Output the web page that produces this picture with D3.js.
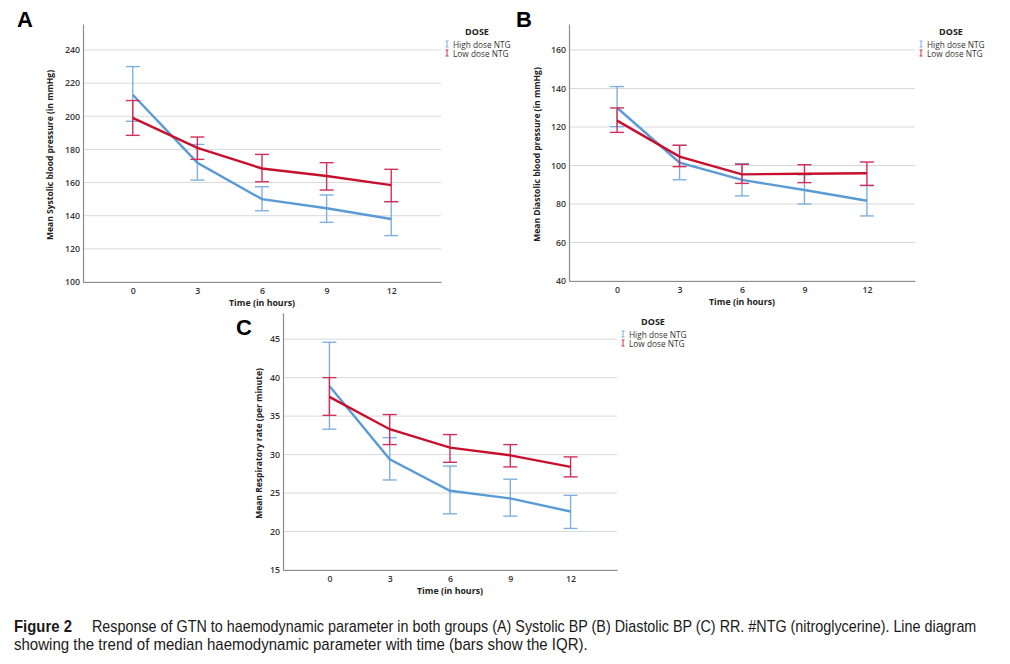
<!DOCTYPE html>
<html>
<head>
<meta charset="utf-8">
<script src="https://cdn.jsdelivr.net/npm/d3@7"></script>
<style>
  body { margin: 0; background: #fff; }
  text { font-family: "Open Sans", "Noto Sans", sans-serif; }
</style>
</head>
<body>
<div id="chart"></div>
<script>
// time points (hours)
var hours = ["0", "3", "6", "9", "12"];
var doses = ["High dose NTG", "Low dose NTG"];

// A - systolic BP (median, lower IQR, upper IQR)
var sbpHighMed = [213, 172, 150, 144.5, 138];
var sbpHighLow = [197, 161.5, 143, 136, 128];
var sbpHighUp  = [230, 183, 157.5, 152.5, 148.5];
var sbpLowMed  = [199, 181, 168.5, 164, 158.5];
var sbpLowLow  = [188.5, 174, 160.5, 155.5, 148.5];
var sbpLowUp   = [209.5, 187.5, 177, 172, 168];
var sbpTicks = [100, 120, 140, 160, 180, 200, 220, 240];

// B - diastolic BP
var dbpHighMed = [130, 101.5, 92.5, 87.3, 81.7];
var dbpHighLow = [120.2, 92.6, 84.2, 80, 73.8];
var dbpHighUp  = [141, 110.5, 101, 95.2, 89.5];
var dbpLowMed  = [123.3, 104.6, 95.4, 95.7, 96];
var dbpLowLow  = [117.2, 99.4, 90.7, 91.1, 89.7];
var dbpLowUp   = [129.9, 110.5, 100.6, 100.4, 101.8];
var dbpTicks = [40, 60, 80, 100, 120, 140, 160];

// C - respiratory rate
var rrHighMed = [38.9, 29.4, 25.3, 24.3, 22.6];
var rrHighLow = [33.3, 26.7, 22.3, 22, 20.4];
var rrHighUp  = [44.6, 32.2, 28.5, 26.8, 24.7];
var rrLowMed  = [37.5, 33.3, 30.9, 29.9, 28.4];
var rrLowLow  = [35.1, 31.3, 29, 28.4, 27.1];
var rrLowUp   = [40, 35.2, 32.6, 31.3, 29.7];
var rrTicks = [15, 20, 25, 30, 35, 40, 45];

var lineColors = ["#5b9bd5", "#c8102e"];
var barColors = ["#7fb0de", "#d2305a"];

var svg = d3.select("#chart").append("svg")
    .attr("width", 1010)
    .attr("height", 664);

function toRows(med, lo, up) {
  return hours.map(function(h, i) {
    return {hour: h, med: med[i], lo: lo[i], up: up[i]};
  });
}

function drawPanel(p) {
  var g = svg.append("g");

  var x = d3.scalePoint()
      .domain(hours)
      .range([p.left, p.right])
      .padding(0.77);

  var y = d3.scaleLinear()
      .domain(p.yDomain)
      .range([p.bottom, p.top]);

  // gridlines
  g.selectAll(".grid")
    .data(p.ticks)
    .enter()
    .append("line")
    .attr("x1", p.left)
    .attr("x2", p.right)
    .attr("y1", d => y(d))
    .attr("y2", d => y(d))
    .attr("stroke", "#d9d9d9")
    .attr("stroke-width", 1);

  // axes
  var leftAxis = d3.axisLeft(y).tickValues(p.ticks).tickSize(0).tickPadding(3);
  var bottomAxis = d3.axisBottom(x).tickSize(0).tickPadding(6);

  var ya = g.append("g")
      .attr("transform", "translate(" + p.left + ",0)")
      .call(leftAxis);
  var xa = g.append("g")
      .attr("transform", "translate(0," + p.bottom + ")")
      .call(bottomAxis);
  [ya, xa].forEach(function(a) {
    a.select(".domain").attr("stroke", "#8c8c8c").attr("stroke-width", 1.2);
    a.selectAll("text")
      .attr("font-size", "8.8px")
      .attr("font-weight", 600)
      .attr("fill", "#333")
      .style("font-family", "'Open Sans', sans-serif");
  });

  // series
  p.series.forEach(function(rows, s) {
    var line = d3.line()
        .x(d => x(d.hour))
        .y(d => y(d.med));

    var bars = g.append("g");
    rows.forEach(function(d) {
      var cx = x(d.hour);
      bars.append("line")
        .attr("x1", cx).attr("x2", cx)
        .attr("y1", y(d.lo)).attr("y2", y(d.up));
      bars.append("line")
        .attr("x1", cx - 7).attr("x2", cx + 7)
        .attr("y1", y(d.lo)).attr("y2", y(d.lo));
      bars.append("line")
        .attr("x1", cx - 7).attr("x2", cx + 7)
        .attr("y1", y(d.up)).attr("y2", y(d.up));
    });
    bars.selectAll("line")
      .attr("stroke", barColors[s])
      .attr("stroke-width", 1.4);

    g.append("path")
      .datum(rows)
      .attr("fill", "none")
      .attr("stroke", lineColors[s])
      .attr("stroke-width", 2.4)
      .attr("d", line);
  });

  // axis titles
  g.append("text")
    .attr("x", (x("0") + x("12")) / 2)
    .attr("y", p.bottom + 24)
    .attr("text-anchor", "middle")
    .attr("font-size", "8.8px")
    .attr("font-weight", 700)
    .attr("fill", "#222")
    .text("Time (in hours)");

  g.append("text")
    .attr("transform", "translate(" + p.yTitleX + "," + ((p.top + p.bottom) / 2 + 2) + ") rotate(-90)")
    .attr("text-anchor", "middle")
    .attr("font-size", "8.5px")
    .attr("font-weight", 700)
    .attr("fill", "#222")
    .text(p.yTitle);

  // panel letter
  g.append("text")
    .attr("x", p.letterX)
    .attr("y", p.letterY)
    .attr("font-size", "22px")
    .attr("font-weight", 700)
    .style("font-family", "'Liberation Sans', Arial, sans-serif")
    .attr("fill", "#000")
    .text(p.letter);

  // legend
  var lg = g.append("g").attr("transform", "translate(" + p.legendX + "," + p.legendY + ")");
  lg.append("text")
    .attr("x", 30)
    .attr("y", 0)
    .attr("text-anchor", "middle")
    .attr("font-size", "9px")
    .attr("font-weight", 700)
    .attr("fill", "#222")
    .text("DOSE");
  doses.forEach(function(name, i) {
    var yy = 13 + i * 9;
    lg.append("path")
      .attr("d", "M-1.5," + (yy - 7) + "H1.5M0," + (yy - 7) + "V" + (yy - 1) + "M-1.5," + (yy - 1) + "H1.5")
      .attr("stroke", barColors[i])
      .attr("stroke-width", 1)
      .attr("fill", "none");
    lg.append("text")
      .attr("x", 6)
      .attr("y", yy)
      .attr("font-size", "8.3px")
      .attr("fill", "#333")
      .text(name);
  });
}

drawPanel({
  letter: "A", letterX: 17, letterY: 27,
  left: 83, right: 441, top: 24, bottom: 282,
  yDomain: [100, 255.7], ticks: sbpTicks,
  yTitle: "Mean Systolic blood pressure (in mmHg)", yTitleX: 53,
  legendX: 447, legendY: 35,
  series: [toRows(sbpHighMed, sbpHighLow, sbpHighUp), toRows(sbpLowMed, sbpLowLow, sbpLowUp)]
});

drawPanel({
  letter: "B", letterX: 516, letterY: 27,
  left: 569, right: 915, top: 24, bottom: 281,
  yDomain: [40, 173.5], ticks: dbpTicks,
  yTitle: "Mean Diastolic blood pressure (in mmHg)", yTitleX: 540,
  legendX: 921, legendY: 35,
  series: [toRows(dbpHighMed, dbpHighLow, dbpHighUp), toRows(dbpLowMed, dbpLowLow, dbpLowUp)]
});

drawPanel({
  letter: "C", letterX: 236, letterY: 335,
  left: 283, right: 617, top: 313, bottom: 570,
  yDomain: [15, 48.4], ticks: rrTicks,
  yTitle: "Mean Respiratory rate (per minute)", yTitleX: 262,
  legendX: 623, legendY: 325,
  series: [toRows(rrHighMed, rrHighLow, rrHighUp), toRows(rrLowMed, rrLowLow, rrLowUp)]
});

// caption - squeeze each line horizontally to the width it has in the figure
function captionLine(str, x0, y0, width, bold) {
  var t = svg.append("text")
    .attr("font-size", "16px")
    .attr("font-weight", bold ? 700 : 400)
    .attr("fill", "#1a1a1a")
    .style("font-family", "'Liberation Sans', sans-serif")
    .text(str);
  var w = t.node().getComputedTextLength();
  t.attr("transform", "translate(" + x0 + "," + y0 + ") scale(" + (width / w) + ",1)");
}
captionLine("Figure 2", 14, 632, 58, true);
captionLine("Response of GTN to haemodynamic parameter in both groups (A) Systolic BP (B) Diastolic BP (C) RR. #NTG (nitroglycerine). Line diagram", 92, 632, 885, false);
captionLine("showing the trend of median haemodynamic parameter with time (bars show the IQR).", 14, 650, 574, false);
</script>
</body>
</html>
